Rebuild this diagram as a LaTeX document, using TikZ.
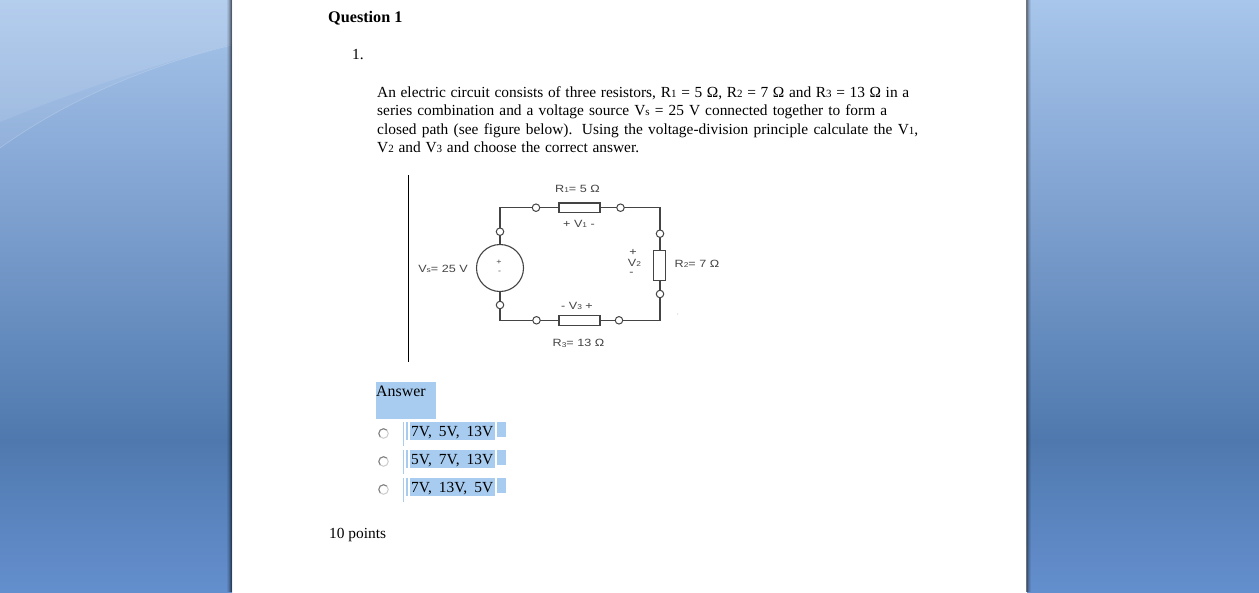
\documentclass[tikz,border=0pt]{standalone}
\usepackage{fontspec}
\setmainfont{Liberation Serif}
\newfontfamily\circfont[FakeStretch=1.2]{Liberation Sans}
\definecolor{pbot}{HTML}{648FCE}
\definecolor{pmid}{HTML}{4F79AE}
\definecolor{pup}{HTML}{8AABD8}
\definecolor{ptop}{HTML}{A8C6EB}
\definecolor{sel}{HTML}{A8CCF0}
\definecolor{ink}{HTML}{444444}
\pgfdeclareverticalshading{panelshade}{100bp}{
 color(0bp)=(pbot); color(25bp)=(pbot); color(37.8bp)=(pmid); color(62.3bp)=(pup); color(75bp)=(ptop); color(100bp)=(ptop)}
\newcommand{\subd}[1]{\raisebox{-0.5pt}{\fontsize{11}{11}\selectfont #1}}
\newcommand{\subc}[1]{\raisebox{-0.5pt}{\fontsize{7}{7}\selectfont #1}}
\newcommand{\body}{\fontsize{15.4}{18}\selectfont}
\tikzset{
 txt/.style={anchor=base west,inner sep=0pt,font=\body,text=black},
 circ/.style={anchor=center,inner sep=0pt,font=\circfont\fontsize{10.5}{12}\selectfont,text=ink},
 sign/.style={circ,font=\circfont\fontsize{7.5}{8}\selectfont},
 term/.style={circle,draw=ink,fill=white,line width=1pt,minimum size=7.5pt,inner sep=0pt},
 res/.style={rectangle,draw=ink,fill=white,line width=1.1pt,inner sep=0pt},
 wire/.style={draw=ink,line width=1.1pt},
 sel bg/.style={fill=sel,draw=none},
 radio/.style={circle,draw=gray!40,fill=white,line width=1pt,minimum size=9.5pt,inner sep=0pt}
}
\begin{document}
\begin{tikzpicture}[x=1pt,y=-1pt]
\useasboundingbox (0,0) rectangle (1259,592);
% background panels
\fill[white] (0,0) rectangle (1259,592);
\node[inner sep=0pt,anchor=north west,minimum width=232pt,minimum height=592pt,shading=panelshade] (leftpanel) at (0,0) {};
\node[inner sep=0pt,anchor=north west,minimum width=232pt,minimum height=592pt,shading=panelshade] (rightpanel) at (1027,0) {};
% swoosh on the left panel
\fill[fill=white,fill opacity=0.15] (0,0) -- (232,0) -- (232,44) .. controls (150,66) and (70,93) .. (0,122) -- cycle;
\fill[fill=white,fill opacity=0.07] (0,122) .. controls (70,93) and (150,66) .. (232,44) .. controls (140,66) and (60,105) .. (0,148) -- cycle;
\draw[white,opacity=0.2,line width=0.7pt] (232,45) .. controls (140,67) and (60,105) .. (0,148);
% page edge shadows
\foreach \d/\o in {0/0.55,1/0.4,2/0.26,3/0.15,4/0.07}{
 \fill[black,opacity=\o] (231-\d,0) rectangle (232-\d,592);
 \fill[black,opacity=\o] (1026+\d,0) rectangle (1027+\d,592);
}
% text
\node[txt,font=\bfseries\fontsize{16.2}{18}\selectfont] (title) at (328,22) {Question 1};
\node[txt] (num) at (352,59) {1.};
\node[txt] (l1) at (377,97) {\makebox[532pt][s]{An electric circuit consists of three resistors, R\subd{1} = 5 Ω, R\subd{2} = 7 Ω and R\subd{3} = 13 Ω in a}};
\node[txt] (l2) at (377,115) {\makebox[510pt][s]{series combination and a voltage source V\subd{s} = 25 V connected together to form a}};
\node[txt] (l3) at (377,134) {\makebox[541pt][s]{closed path (see figure below). Using the voltage-division principle calculate the V\subd{1},}};
\node[txt] (l4) at (377,152) {\makebox[262pt][s]{V\subd{2} and V\subd{3} and choose the correct answer.}};
% figure
\coordinate (ruleA) at (408,175);
\coordinate (ruleB) at (408,362);
\draw[black,line width=1pt] (ruleA) -- (ruleB);
\coordinate (tl) at (500,207.7);
\coordinate (tr) at (660,207.7);
\coordinate (bl) at (500,320.3);
\coordinate (br) at (660,320.3);
\draw[wire] (tl) -- (tr) -- (br) -- (bl) -- cycle;
\node[circle,draw=ink,fill=white,line width=1.1pt,minimum size=47pt,inner sep=0pt] (src) at (500,268) {};
\node[res,minimum width=41pt,minimum height=9.5pt] (r1) at (579.5,207.7) {};
\node[res,minimum width=12.5pt,minimum height=29.5pt] (r2) at (659.5,265.3) {};
\node[res,minimum width=41pt,minimum height=9.5pt] (r3) at (579.5,320.3) {};
\node[term] (t1) at (536,207.7) {};
\node[term] (t2) at (620.5,207.7) {};
\node[term] (t3) at (660,233.7) {};
\node[term] (t4) at (660,294) {};
\node[term] (t5) at (500,231.7) {};
\node[term] (t6) at (500,305) {};
\node[term] (t7) at (536.5,320.3) {};
\node[term] (t8) at (619,320.3) {};
\node[circ] (lr1) at (577.5,189) {R\subc{1}= 5 Ω};
\node[circ] (lv1) at (579,224) {+ V\subc{1} -};
\node[circ] (lvs) at (443,269) {V\subc{s}= 25 V};
\node[sign] (lp) at (499,262) {+};
\node[sign] (lm) at (499.5,272) {-};
\node[circ] (lvp) at (633,252) {+};
\node[circ] (lv2) at (634.5,263) {V\subc{2}};
\node[circ] (lvm) at (631.5,274) {-};
\node[circ] (lr2) at (697,264) {R\subc{2}= 7 Ω};
\node[circ] (lv3) at (577,306) {- V\subc{3} +};
\node[circ] (lr3) at (578.5,343.5) {R\subc{3}= 13 Ω};
\fill[gray!60] (677.5,314) circle (0.5pt);
% answers
\fill[sel bg] (376,382) rectangle (436,419);
\node[txt,font=\fontsize{15.9}{18}\selectfont] (ans) at (376,396) {Answer};
\foreach \y/\lab/\nm in {422/{7V, 5V, 13V}/a,450/{5V, 7V, 13V}/b,478/{7V, 13V, 5V}/c}{
 \fill[sel bg] (410,\y) rectangle (495,\y+18);
 \fill[sel bg] (497,\y) rectangle (506,\y+15);
 \fill[sel bg] (403,\y) rectangle (404,\y+24);
 \fill[sel bg] (406,\y) rectangle (408,\y+18);
 \node[txt] (opt\nm) at (411,\y+14) {\makebox[82pt][s]{\lab}};
 \node[radio] (rad\nm) at (383.5,\y+11.5) {};
 \draw[gray,line width=1pt] (386.9,\y+8.1) arc (45:225:4.75pt);
}
\node[txt] (pts) at (329,538) {10 points};
\end{tikzpicture}
\end{document}
